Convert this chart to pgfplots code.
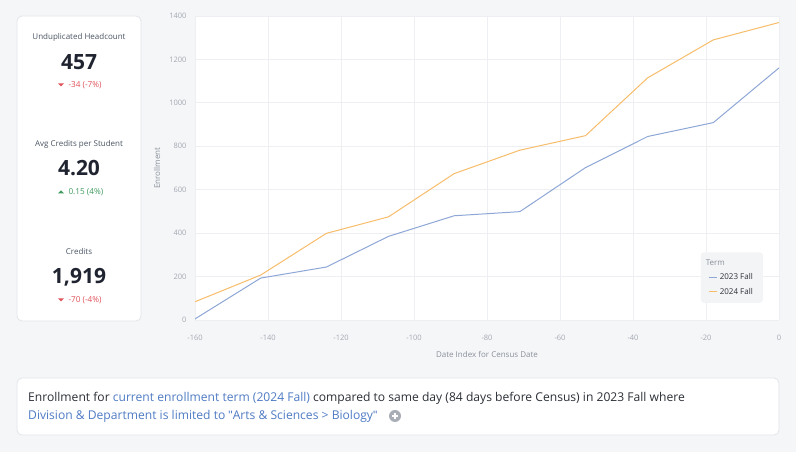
\documentclass[border=0pt]{standalone}
\usepackage{pgfplots}
\pgfplotsset{compat=1.18}
\usepackage{fontspec}
\setmainfont{Open Sans}
\newfontfamily\qfont{Liberation Sans}
\definecolor{bg}{HTML}{F5F6F8}
\definecolor{cardborder}{HTML}{E2E5EA}
\definecolor{gridc}{HTML}{EEEFF2}
\definecolor{tickc}{HTML}{A3A8B1}
\definecolor{labelc}{HTML}{8A909A}
\definecolor{titlec}{HTML}{4B5563}
\definecolor{bigc}{HTML}{1F2430}
\definecolor{redc}{HTML}{E0525A}
\definecolor{greenc}{HTML}{3E9A5E}
\definecolor{bluel}{HTML}{8EA7D6}
\definecolor{orangel}{HTML}{F8BD6A}
\definecolor{linkc}{HTML}{4F7BC4}
\definecolor{textc}{HTML}{2B2F36}
\definecolor{legbg}{HTML}{F3F4F6}
\definecolor{plusc}{HTML}{A9ADB5}
\begin{document}
\begin{tikzpicture}[x=1pt,y=1pt]
\fill[bg] (0,0) rectangle (796,452);
% left KPI card
\draw[cardborder, fill=white, rounded corners=5pt, line width=0.8pt] (17,131) rectangle (141,436);
\fill[white] (195,132) rectangle (779,436);
\begin{axis}[at={(195pt,132pt)}, anchor=south west, scale only axis,
  width=584pt, height=304pt,
  xmin=-160, xmax=0, ymin=0, ymax=1400,
  xtick={-160,-140,...,0}, ytick={0,200,...,1400},
  grid=major, grid style={gridc, line width=0.8pt},
  axis line style={draw=none}, major tick length=0pt,
  /pgf/number format/assume math mode=true,
  /pgf/number format/1000 sep={},
  tick label style={font=\fontsize{7.5}{9}\selectfont, text=tickc},
  xticklabel style={yshift=-12pt},
  yticklabel style={xshift=-5pt},
  xlabel={Date Index for Census Date}, ylabel={Enrollment},
  label style={font=\fontsize{8}{9}\selectfont, text=labelc},
  xlabel style={at={(axis description cs:0.5,-0.115)}, anchor=center},
  ylabel style={at={(axis description cs:-0.065,0.5)}, anchor=center},
  legend style={at={(rel axis cs:0.9726,0.056)}, anchor=south east, fill=legbg, draw=none,
    rounded corners=3pt, font=\fontsize{8}{9}\selectfont, text=textc,
    row sep=3pt, inner xsep=8pt, inner ysep=5pt},
  legend cell align=left,
  legend image code/.code={\draw[#1, line width=1pt] (0pt,0pt) -- (8pt,0pt);},
]
\addlegendimage{empty legend}
\addlegendentry{\hspace{-14pt}\textcolor{labelc}{Term}}
\addplot[bluel, line width=1pt] coordinates {
(-160,5) (-142,193) (-124,244) (-107,385) (-89,480) (-71,499) (-53,702) (-36,845) (-18,909) (0,1161)};
\addlegendentry{2023 Fall}
\addplot[orangel, line width=1pt] coordinates {
(-160,84) (-142,207) (-124,399) (-107,475) (-89,674) (-71,782) (-53,849) (-36,1115) (-18,1290) (0,1370)};
\addlegendentry{2024 Fall}
\end{axis}
% KPI texts
\node[text=titlec, font=\fontsize{8}{9}\selectfont] at (79,415) {Unduplicated Headcount};
\node[text=bigc, font=\fontsize{21}{24}\selectfont\bfseries] at (79,390) {457};
\fill[redc] (58,368.5) -- (64,368.5) -- (61,365.5) -- cycle;
\node[text=redc, font=\fontsize{8.2}{9}\selectfont, anchor=west] at (65,367) {-34 (-7\%)};
\node[text=titlec, font=\fontsize{8}{9}\selectfont] at (79,308) {Avg Credits per Student};
\node[text=bigc, font=\fontsize{21}{24}\selectfont\bfseries] at (79,284) {4.20};
\fill[greenc] (58,258.5) -- (64,258.5) -- (61,261.5) -- cycle;
\node[text=greenc, font=\fontsize{8.2}{9}\selectfont, anchor=west] at (65,260) {0.15 (4\%)};
\node[text=titlec, font=\fontsize{8}{9}\selectfont] at (79,200) {Credits};
\node[text=bigc, font=\fontsize{21}{24}\selectfont\bfseries] at (79,175) {1,919};
\fill[redc] (58,153.5) -- (64,153.5) -- (61,150.5) -- cycle;
\node[text=redc, font=\fontsize{8.2}{9}\selectfont, anchor=west] at (65,152) {-70 (-4\%)};
% bottom card
\draw[cardborder, fill=white, rounded corners=5pt, line width=0.8pt] (17,17) rectangle (779,74);
\node[anchor=base west, inner sep=0pt, font=\fontsize{12.1}{14}\selectfont, text=textc] at (28,50)
  {Enrollment for \textcolor{linkc}{current enrollment term (2024 Fall)} compared to same day (84 days before Census) in 2023 Fall where};
\node[anchor=base west, inner sep=0pt, font=\fontsize{12.1}{14}\selectfont, text=linkc] at (28,32)
  {Division \& Department is limited to {\qfont\symbol{"22}}Arts \& Sciences > Biology{\qfont\symbol{"22}}};
\fill[plusc] (395,36) circle (6);
\draw[white, line width=1.4pt] (392,36) -- (398,36) (395,33) -- (395,39);
\end{tikzpicture}
\end{document}
